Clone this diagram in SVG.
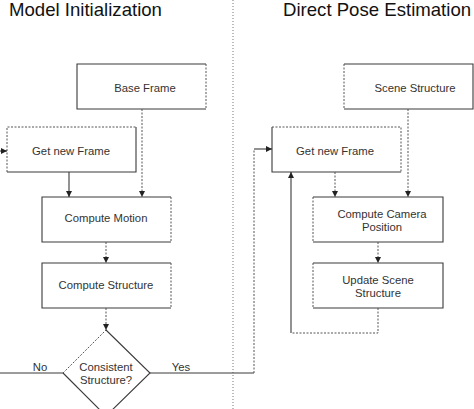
<svg xmlns="http://www.w3.org/2000/svg" width="474" height="409" viewBox="0 0 474 409">
<defs>
<style>
.s{stroke:#3a3a3a;stroke-width:1.1;fill:none}
.d{stroke:#555;stroke-width:1;fill:none;stroke-dasharray:2 1.5}
.t{font-family:"Liberation Sans",Arial,sans-serif;font-size:11.3px;fill:#333;text-anchor:middle}
.title{font-family:"Liberation Sans",Arial,sans-serif;font-size:18.6px;fill:#111}
.div{stroke:#777;stroke-width:1;stroke-dasharray:1 2;fill:none}
</style>
<marker id="ah" viewBox="0 0 10 10" refX="10" refY="5" markerWidth="6" markerHeight="6" orient="auto" markerUnits="userSpaceOnUse">
<path d="M0,0 L10,5 L0,10 z" fill="#222"/>
</marker>
</defs>
<rect width="474" height="409" fill="#fff"/>
<text class="title" x="9" y="16">Model Initialization</text>
<text class="title" x="283" y="16">Direct Pose Estimation</text>
<line class="div" x1="233" y1="0" x2="233" y2="409"/>

<g id="base-frame">
<path class="s" d="M206,109 H77 V64 H206"/>
<path class="d" d="M206,64 V109"/>
<text class="t" x="145" y="92">Base Frame</text>
</g>
<g id="scene-structure">
<path class="s" d="M344,64 H473 V109 H344"/>
<path class="d" d="M344,64 V109"/>
<text class="t" x="415" y="92">Scene Structure</text>
</g>
<g id="get-frame-left">
<path class="s" d="M136,127 V172 H7"/>
<path class="d" d="M7,172 V127 H136"/>
<text class="t" x="71" y="155">Get new Frame</text>
</g>
<g id="compute-motion">
<path class="s" d="M171,242 H42 V197 H171"/>
<path class="d" d="M171,197 V242"/>
<text class="t" x="106" y="222">Compute Motion</text>
</g>
<g id="compute-structure">
<path class="s" d="M171,308 H42 V263 H171"/>
<path class="d" d="M171,263 V308"/>
<text class="t" x="106" y="289">Compute  Structure</text>
</g>
<g id="consistent">
<path class="s" d="M106,330 L150,373 L106,416"/>
<path class="s" d="M106,416 L63,373"/>
<path class="d" d="M63,373 L106,330"/>
<text class="t" x="106" y="371">Consistent</text>
<text class="t" x="106" y="384">Structure?</text>
</g>
<g id="get-frame-right">
<path class="s" d="M401,172 H272 V127"/>
<path class="d" d="M272,127 H401 V172"/>
<text class="t" x="335" y="155">Get new Frame</text>
</g>
<g id="compute-camera">
<path class="s" d="M313,197 H443 V242 H313"/>
<path class="d" d="M313,197 V242"/>
<text class="t" x="382" y="218">Compute Camera</text>
<text class="t" x="382" y="231">Position</text>
</g>
<g id="update-scene">
<path class="s" d="M313,263 H443 V308 H313"/>
<path class="d" d="M313,263 V308"/>
<text class="t" x="378" y="284">Update Scene</text>
<text class="t" x="378" y="297">Structure</text>
</g>

<g id="connectors">
<line class="s" x1="0" y1="151" x2="7" y2="151" marker-end="url(#ah)"/>
<line class="d" x1="142" y1="109" x2="142" y2="197" marker-end="url(#ah)"/>
<line class="s" x1="69" y1="172" x2="69" y2="197" marker-end="url(#ah)"/>
<line class="d" x1="106" y1="242" x2="106" y2="263" marker-end="url(#ah)"/>
<line class="d" x1="106" y1="308" x2="106" y2="330" marker-end="url(#ah)"/>
<line class="s" x1="63" y1="373" x2="0" y2="373"/>
<text class="t" x="40" y="371">No</text>
<path class="s" d="M150,373 H254"/>
<text class="t" x="181" y="371">Yes</text>
<path class="d" d="M254,373 V149"/>
<path class="s" d="M254,149 H272" marker-end="url(#ah)"/>
<line class="d" x1="408" y1="109" x2="408" y2="197" marker-end="url(#ah)"/>
<line class="d" x1="335" y1="172" x2="335" y2="197" marker-end="url(#ah)"/>
<line class="d" x1="378" y1="242" x2="378" y2="263" marker-end="url(#ah)"/>
<path class="d" d="M378,308 V333 H291"/>
<path class="s" d="M291,333 V172" marker-end="url(#ah)"/>
</g>
</svg>
